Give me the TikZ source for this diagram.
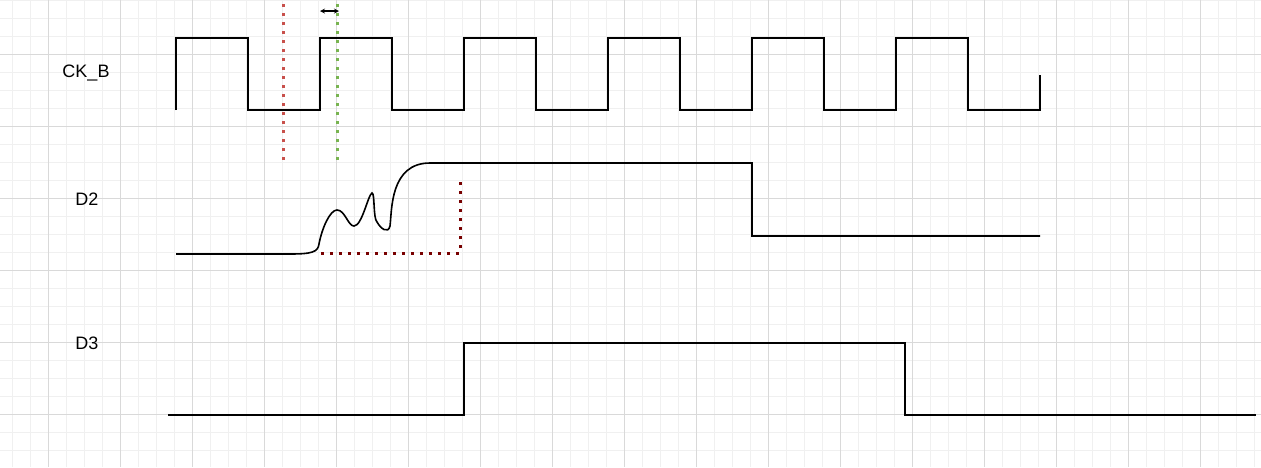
\documentclass[tikz,border=0pt]{standalone}
\usepackage{fontspec}
\setmainfont{Liberation Sans}
\begin{document}
\begin{tikzpicture}[x=1pt,y=-1pt,
  sig/.style={line width=1.6pt,line join=miter},
  lbl/.style={font=\fontsize{18}{21}\selectfont,inner sep=0pt},
  dotr/.style={line width=3pt,dash pattern=on 3pt off 6pt},
]
\useasboundingbox (0,0) rectangle (1261,467);
\fill[white] (0,0) rectangle (1261,467);
\foreach \x in {12,30,...,1260} \draw[black!6,line width=0.6pt] (\x,0) -- (\x,467);
\foreach \y in {0,18,...,466} \draw[black!6,line width=0.6pt] (0,\y) -- (1261,\y);
\foreach \x in {48,120,...,1260} \draw[black!15,line width=0.8pt] (\x,0) -- (\x,467);
\foreach \y in {54,126,...,466} \draw[black!15,line width=0.8pt] (0,\y) -- (1261,\y);

\node[lbl] (ck) at (86,73) {CK\_B};
\node[lbl] (d2) at (87,199) {D2};
\node[lbl] (d3) at (87,343) {D3};

% clock
\draw[sig] (176,110) -- (176,38)
  \foreach \k in {0,...,4} { -- (248+144*\k,38) -- (248+144*\k,110) -- (320+144*\k,110) -- (320+144*\k,38)}
  -- (968,38) -- (968,110) -- (1040,110) -- (1040,75);

% markers
\coordinate (rt) at (283,4); \coordinate (rb) at (283,163);
\coordinate (gt) at (337,4); \coordinate (gb) at (337,163);
\draw[dotr,color={rgb,255:red,200;green,80;blue,75}] (rt) -- (rb);
\draw[dotr,color={rgb,255:red,120;green,180;blue,80}] (gt) -- (gb);
\coordinate (a1) at (320,11); \coordinate (a2) at (339,11);
\draw[<->,>=stealth,line width=1.2pt] (a1) -- (a2);

% D2
\draw[sig] (176,254) -- (290,254)
  .. controls (312,254) and (318,252) .. (319,244)
  .. controls (322,228) and (330,210) .. (337,210)
  .. controls (345,210) and (348,226) .. (354,226)
  .. controls (362,226) and (368,195) .. (372,193)
  .. controls (375,193) and (373,218) .. (377,222)
  .. controls (381,229) and (388,234) .. (390,226)
  .. controls (392,210) and (390,163) .. (430,163)
  -- (752,163) -- (752,236) -- (1040,236);
\coordinate (p1) at (321,253); \coordinate (p2) at (460,253); \coordinate (p3) at (460,178);
\draw[dotr,color={rgb,255:red,120;green,0;blue,0}] (p1) -- (p2) -- (p3);

% D3
\draw[sig] (168,415) -- (464,415) -- (464,343) -- (905,343) -- (905,415) -- (1256,415);
\end{tikzpicture}
\end{document}
